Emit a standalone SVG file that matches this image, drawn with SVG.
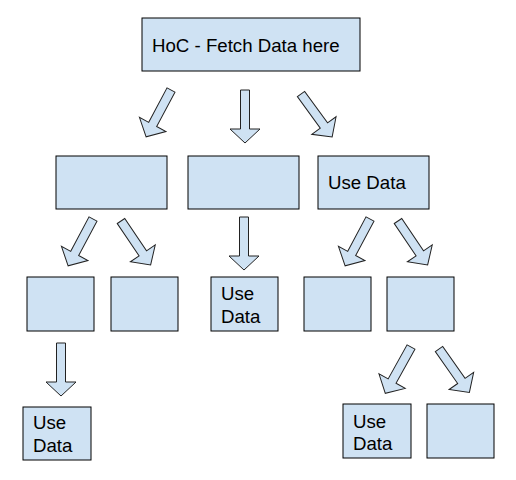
<svg xmlns="http://www.w3.org/2000/svg" width="516" height="480" viewBox="0 0 516 480">
<defs>
<style>
.box{fill:#cfe2f3;stroke:#000;stroke-width:1}
.arr{fill:#cfe2f3;stroke:#222;stroke-width:1;stroke-linejoin:miter}
.t{font-family:"Liberation Sans",Arial,sans-serif;font-size:18.67px;fill:#000}
</style>
<path id="a" d="M-4.5,0 H4.5 V39 H15 L0,53 L-15,39 H-4.5 Z"/>
</defs>
<rect width="516" height="480" fill="#fff"/>
<g id="connectors">
<use href="#a" class="arr" transform="translate(171,90) rotate(28)"/>
<use href="#a" class="arr" transform="translate(245,90)"/>
<use href="#a" class="arr" transform="translate(301,94) rotate(-36)"/>
<use href="#a" class="arr" transform="translate(93,219) rotate(28)"/>
<use href="#a" class="arr" transform="translate(121,221) rotate(-34)"/>
<use href="#a" class="arr" transform="translate(244,217)"/>
<use href="#a" class="arr" transform="translate(370,219) rotate(28)"/>
<use href="#a" class="arr" transform="translate(398,221) rotate(-34)"/>
<use href="#a" class="arr" transform="translate(61,343)"/>
<use href="#a" class="arr" transform="translate(411,347) rotate(29)"/>
<use href="#a" class="arr" transform="translate(439,349) rotate(-35)"/>
</g>
<g id="hoc"><rect class="box" x="142" y="18" width="218" height="53"/><text class="t" x="152" y="52">HoC - Fetch Data here</text></g>
<g id="n1"><rect class="box" x="56" y="156" width="111" height="53"/></g>
<g id="n2"><rect class="box" x="188" y="156" width="111" height="53"/></g>
<g id="n3"><rect class="box" x="318" y="156" width="111" height="53"/><text class="t" x="328" y="189">Use Data</text></g>
<g id="n1a"><rect class="box" x="27" y="277" width="67" height="54"/></g>
<g id="n1b"><rect class="box" x="111" y="277" width="67" height="54"/></g>
<g id="n2a"><rect class="box" x="211" y="277" width="67" height="54"/><text class="t" x="221" y="300">Use</text><text class="t" x="221" y="323">Data</text></g>
<g id="n3a"><rect class="box" x="304" y="277" width="67" height="54"/></g>
<g id="n3b"><rect class="box" x="387" y="277" width="67" height="54"/></g>
<g id="n1a1"><rect class="box" x="23" y="407" width="68" height="53"/><text class="t" x="33" y="429">Use</text><text class="t" x="33" y="452">Data</text></g>
<g id="n3b1"><rect class="box" x="343" y="404" width="68" height="54"/><text class="t" x="353" y="428">Use</text><text class="t" x="353" y="450">Data</text></g>
<g id="n3b2"><rect class="box" x="427" y="404" width="67" height="54"/></g>
</svg>
